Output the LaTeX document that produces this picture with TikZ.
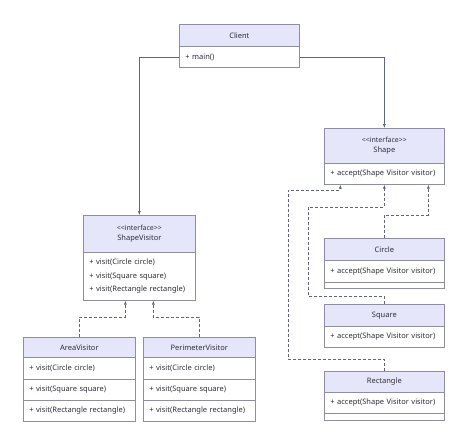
\documentclass[tikz,border=0pt]{standalone}
\usepackage{fontspec}
\setmainfont{Noto Sans}
\usetikzlibrary{arrows.meta,calc}
\definecolor{hd}{HTML}{E6E6FA}
\definecolor{bd}{HTML}{8E8EA0}
\definecolor{ln}{HTML}{626282}
\definecolor{tx}{HTML}{2E2E3A}
\newcommand{\stereo}{{\fontsize{7}{9}\selectfont{<}{<}interface{>}{>}}}
\tikzset{
  hdr/.style={draw=bd, line width=0.7pt, fill=hd, inner sep=0pt, anchor=north west, align=center, text=tx, font=\fontsize{7.5}{10.5}\selectfont},
  sec/.style={draw=bd, line width=0.7pt, fill=white, inner xsep=6pt, inner ysep=0pt, anchor=north west, align=left, text=tx, font=\fontsize{7.5}{13.5}\selectfont},
  assoc/.style={draw=ln, line width=0.6pt, -{Latex[length=4pt,width=3pt]}},
  real/.style={draw=ln, line width=0.6pt, dash pattern=on 3pt off 2pt, -{Latex[length=4pt,width=3pt]}}
}
\begin{document}
\begin{tikzpicture}[x=1pt,y=-1pt]
\useasboundingbox (0,0) rectangle (474,440);
% Client
\node[hdr, minimum width=120pt, minimum height=22pt] (client) at (179,24) {Client};
\node[sec, text width=108pt, minimum height=21pt] (clientm) at (179,46) {+ main()};
% Shape
\node[hdr, minimum width=120pt, minimum height=35pt] (shape) at (324,128) {\stereo\\Shape};
\node[sec, text width=108pt, minimum height=21pt] (shapes) at (324,163) {+ accept(Shape Visitor visitor)};
% Circle
\node[hdr, minimum width=120pt, minimum height=22pt] (circ) at (324,238) {Circle};
\node[sec, text width=108pt, minimum height=22pt] (circs) at (324,260) {+ accept(Shape Visitor visitor)};
\node[sec, text width=108pt, minimum height=6pt] (circe) at (324,282) {};
% Square
\node[hdr, minimum width=120pt, minimum height=22pt] (sq) at (324,304) {Square};
\node[sec, text width=108pt, minimum height=21pt] (sqs) at (324,326) {+ accept(Shape Visitor visitor)};
% Rectangle
\node[hdr, minimum width=120pt, minimum height=21pt] (rect) at (324,371) {Rectangle};
\node[sec, text width=108pt, minimum height=21pt] (rects) at (324,392) {+ accept(Shape Visitor visitor)};
\node[sec, text width=108pt, minimum height=7pt] (recte) at (324,413) {};
% ShapeVisitor
\node[hdr, minimum width=112pt, minimum height=37pt] (sv) at (83,215) {\stereo\\ShapeVisitor};
\node[sec, text width=100pt, minimum height=48pt] (svs) at (83,252) {+ visit(Circle circle)\\+ visit(Square square)\\+ visit(Rectangle rectangle)};
% AreaVisitor
\node[hdr, minimum width=112pt, minimum height=20pt] (av) at (23,337) {AreaVisitor};
\node[sec, text width=100pt, minimum height=22pt] (av1) at (23,357) {+ visit(Circle circle)};
\node[sec, text width=100pt, minimum height=21pt] (av2) at (23,379) {+ visit(Square square)};
\node[sec, text width=100pt, minimum height=21pt] (av3) at (23,400) {+ visit(Rectangle rectangle)};
% PerimeterVisitor
\node[hdr, minimum width=112pt, minimum height=20pt] (pv) at (143,337) {PerimeterVisitor};
\node[sec, text width=100pt, minimum height=22pt] (pv1) at (143,357) {+ visit(Circle circle)};
\node[sec, text width=100pt, minimum height=21pt] (pv2) at (143,379) {+ visit(Square square)};
\node[sec, text width=100pt, minimum height=21pt] (pv3) at (143,400) {+ visit(Rectangle rectangle)};
% associations
\draw[assoc] (clientm.west) -| (sv.north);
\draw[assoc] (clientm.east) -| (shape.north);
% realizations visitors
\draw[real] (av.north) -- ++(0,-20) -| ($(svs.south)+(-14,0)$);
\draw[real] (pv.north) -- ++(0,-20) -| ($(svs.south)+(14,0)$);
% realizations shapes
\draw[real] (circ.north) -- ++(0,-23) -| ($(shapes.south)+(44,0)$);
\draw[real] (sq.north) -- ++(0,-8) -- ++(-76,0) -- ++(0,-89) -| (shapes.south);
\draw[real] (rect.north) -- ++(0,-12) -- ++(-96,0) -- ++(0,-169) -| ($(shapes.south)+(-44,0)$);
\end{tikzpicture}
\end{document}
